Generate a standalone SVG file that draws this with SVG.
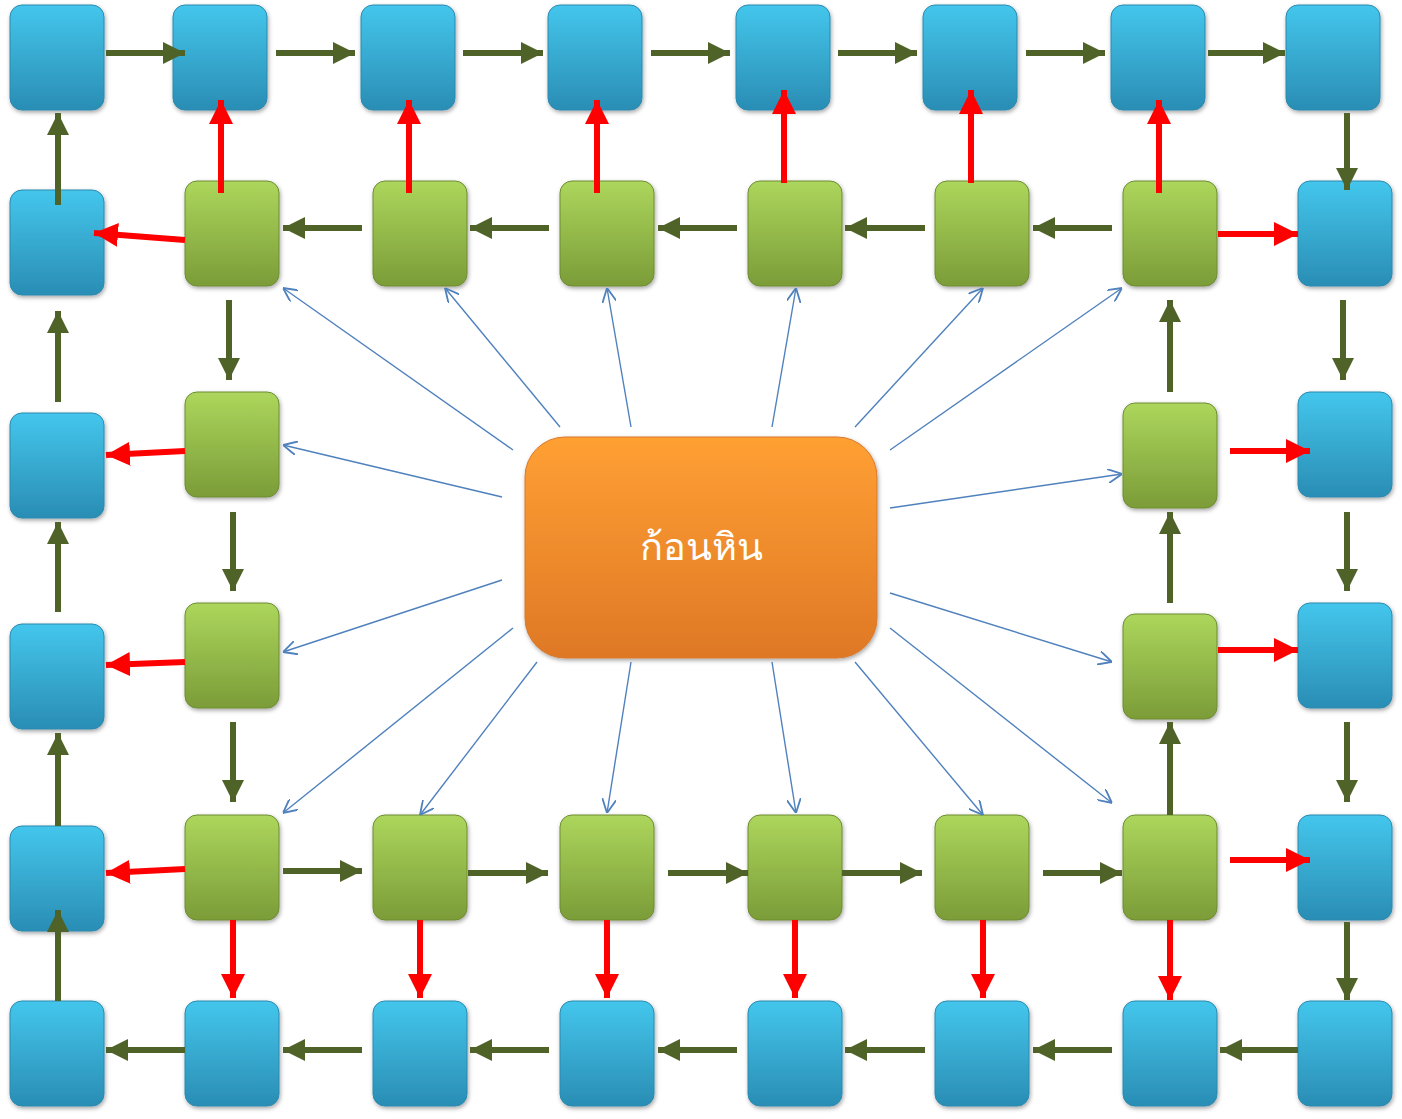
<svg xmlns="http://www.w3.org/2000/svg" width="1402" height="1119" viewBox="0 0 1402 1119">
<defs>
<linearGradient id="gb" x1="0" y1="0" x2="0" y2="1"><stop offset="0" stop-color="#44c6ec"/><stop offset="1" stop-color="#2a8db4"/></linearGradient>
<linearGradient id="gg" x1="0" y1="0" x2="0" y2="1"><stop offset="0" stop-color="#acd65c"/><stop offset="1" stop-color="#7b9c38"/></linearGradient>
<linearGradient id="go" x1="0" y1="0" x2="0" y2="1"><stop offset="0" stop-color="#ffa033"/><stop offset="1" stop-color="#df7826"/></linearGradient>
<filter id="sh" x="-20%" y="-20%" width="140%" height="140%"><feDropShadow dx="1" dy="2" stdDeviation="2" flood-opacity="0.35"/></filter>
<marker id="ad" viewBox="0 0 10 10" markerWidth="22" markerHeight="22" markerUnits="userSpaceOnUse" refX="10" refY="5" orient="auto"><path d="M0,0 L10,5 L0,10 z" fill="#4f6228"/></marker>
<marker id="ar" viewBox="0 0 10 10" markerWidth="24" markerHeight="24" markerUnits="userSpaceOnUse" refX="10" refY="5" orient="auto"><path d="M0,0 L10,5 L0,10 z" fill="#ff0000"/></marker>
<marker id="ab" viewBox="0 0 10 10" markerWidth="14" markerHeight="14" markerUnits="userSpaceOnUse" refX="10" refY="5" orient="auto"><path d="M0,0 L10,5 L0,10" fill="none" stroke="#4f81bd" stroke-width="1.3"/></marker>
<style>
.b{fill:url(#gb);stroke:#2b8ab0;stroke-width:1;filter:url(#sh)}
.g{fill:url(#gg);stroke:#6e8c33;stroke-width:1;filter:url(#sh)}
.d{stroke:#4f6228;stroke-width:6;marker-end:url(#ad)}
.r{stroke:#ff0000;stroke-width:6;marker-end:url(#ar)}
.l{stroke:#4f81bd;stroke-width:1.4;marker-end:url(#ab)}
</style>
</defs>
<g id="blue-nodes">
<rect id="t1" class="b" x="10" y="5" width="94" height="105" rx="12"/>
<rect id="t2" class="b" x="173" y="5" width="94" height="105" rx="12"/>
<rect id="t3" class="b" x="361" y="5" width="94" height="105" rx="12"/>
<rect id="t4" class="b" x="548" y="5" width="94" height="105" rx="12"/>
<rect id="t5" class="b" x="736" y="5" width="94" height="105" rx="12"/>
<rect id="t6" class="b" x="923" y="5" width="94" height="105" rx="12"/>
<rect id="t7" class="b" x="1111" y="5" width="94" height="105" rx="12"/>
<rect id="t8" class="b" x="1286" y="5" width="94" height="105" rx="12"/>
<rect id="r1" class="b" x="1298" y="181" width="94" height="105" rx="12"/>
<rect id="r2" class="b" x="1298" y="392" width="94" height="105" rx="12"/>
<rect id="r3" class="b" x="1298" y="603" width="94" height="105" rx="12"/>
<rect id="r4" class="b" x="1298" y="815" width="94" height="105" rx="12"/>
<rect id="b8" class="b" x="1298" y="1001" width="94" height="105" rx="12"/>
<rect id="b7" class="b" x="1123" y="1001" width="94" height="105" rx="12"/>
<rect id="b6" class="b" x="935" y="1001" width="94" height="105" rx="12"/>
<rect id="b5" class="b" x="748" y="1001" width="94" height="105" rx="12"/>
<rect id="b4" class="b" x="560" y="1001" width="94" height="105" rx="12"/>
<rect id="b3" class="b" x="373" y="1001" width="94" height="105" rx="12"/>
<rect id="b2" class="b" x="185" y="1001" width="94" height="105" rx="12"/>
<rect id="b1" class="b" x="10" y="1001" width="94" height="105" rx="12"/>
<rect id="l4" class="b" x="10" y="826" width="94" height="105" rx="12"/>
<rect id="l3" class="b" x="10" y="624" width="94" height="105" rx="12"/>
<rect id="l2" class="b" x="10" y="413" width="94" height="105" rx="12"/>
<rect id="l1" class="b" x="10" y="190" width="94" height="105" rx="12"/>
</g>
<g id="green-nodes">
<rect id="gt1" class="g" x="185" y="181" width="94" height="105" rx="12"/>
<rect id="gt2" class="g" x="373" y="181" width="94" height="105" rx="12"/>
<rect id="gt3" class="g" x="560" y="181" width="94" height="105" rx="12"/>
<rect id="gt4" class="g" x="748" y="181" width="94" height="105" rx="12"/>
<rect id="gt5" class="g" x="935" y="181" width="94" height="105" rx="12"/>
<rect id="gt6" class="g" x="1123" y="181" width="94" height="105" rx="12"/>
<rect id="gl1" class="g" x="185" y="392" width="94" height="105" rx="12"/>
<rect id="gl2" class="g" x="185" y="603" width="94" height="105" rx="12"/>
<rect id="gb1" class="g" x="185" y="815" width="94" height="105" rx="12"/>
<rect id="gb2" class="g" x="373" y="815" width="94" height="105" rx="12"/>
<rect id="gb3" class="g" x="560" y="815" width="94" height="105" rx="12"/>
<rect id="gb4" class="g" x="748" y="815" width="94" height="105" rx="12"/>
<rect id="gb5" class="g" x="935" y="815" width="94" height="105" rx="12"/>
<rect id="gb6" class="g" x="1123" y="815" width="94" height="105" rx="12"/>
<rect id="gr2" class="g" x="1123" y="614" width="94" height="105" rx="12"/>
<rect id="gr1" class="g" x="1123" y="403" width="94" height="105" rx="12"/>
</g>
<g id="center">
<rect x="525" y="437" width="352" height="221" rx="40" fill="url(#go)" stroke="#d9782a" filter="url(#sh)"/>
<text x="701" y="560" text-anchor="middle" font-family="'Noto Sans','DejaVu Sans',sans-serif" font-size="38" fill="#ffffff">ก้อนหิน</text>
</g>
<g id="connectors">
<line class="d" x1="106" y1="53" x2="185" y2="53"/>
<line class="d" x1="276" y1="53" x2="355" y2="53"/>
<line class="d" x1="463" y1="53" x2="543" y2="53"/>
<line class="d" x1="651" y1="53" x2="730" y2="53"/>
<line class="d" x1="838" y1="53" x2="917" y2="53"/>
<line class="d" x1="1026" y1="53" x2="1105" y2="53"/>
<line class="d" x1="1208" y1="53" x2="1285" y2="53"/>
<line class="d" x1="1347" y1="113" x2="1347" y2="190"/>
<line class="d" x1="1343" y1="300" x2="1343" y2="380"/>
<line class="d" x1="1347" y1="512" x2="1347" y2="591"/>
<line class="d" x1="1347" y1="722" x2="1347" y2="802"/>
<line class="d" x1="1347" y1="922" x2="1347" y2="1000"/>
<line class="d" x1="1298" y1="1050" x2="1220" y2="1050"/>
<line class="d" x1="1112" y1="1050" x2="1033" y2="1050"/>
<line class="d" x1="925" y1="1050" x2="845" y2="1050"/>
<line class="d" x1="737" y1="1050" x2="658" y2="1050"/>
<line class="d" x1="549" y1="1050" x2="470" y2="1050"/>
<line class="d" x1="362" y1="1050" x2="283" y2="1050"/>
<line class="d" x1="185" y1="1050" x2="106" y2="1050"/>
<line class="d" x1="58" y1="1001" x2="58" y2="910"/>
<line class="d" x1="58" y1="826" x2="58" y2="733"/>
<line class="d" x1="58" y1="612" x2="58" y2="522"/>
<line class="d" x1="58" y1="402" x2="58" y2="311"/>
<line class="d" x1="58" y1="205" x2="58" y2="113"/>
<line class="d" x1="1112" y1="228" x2="1033" y2="228"/>
<line class="d" x1="925" y1="228" x2="845" y2="228"/>
<line class="d" x1="737" y1="228" x2="658" y2="228"/>
<line class="d" x1="549" y1="228" x2="470" y2="228"/>
<line class="d" x1="362" y1="228" x2="283" y2="228"/>
<line class="d" x1="229" y1="300" x2="229" y2="380"/>
<line class="d" x1="233" y1="512" x2="233" y2="591"/>
<line class="d" x1="233" y1="722" x2="233" y2="802"/>
<line class="d" x1="283" y1="871" x2="362" y2="871"/>
<line class="d" x1="468" y1="873" x2="548" y2="873"/>
<line class="d" x1="668" y1="873" x2="748" y2="873"/>
<line class="d" x1="842" y1="873" x2="922" y2="873"/>
<line class="d" x1="1043" y1="873" x2="1122" y2="873"/>
<line class="d" x1="1170" y1="815" x2="1170" y2="722"/>
<line class="d" x1="1170" y1="603" x2="1170" y2="512"/>
<line class="d" x1="1170" y1="392" x2="1170" y2="300"/>
<line class="r" x1="185" y1="240" x2="94" y2="233"/>
<line class="r" x1="221" y1="193" x2="221" y2="100"/>
<line class="r" x1="409" y1="193" x2="409" y2="100"/>
<line class="r" x1="597" y1="193" x2="597" y2="100"/>
<line class="r" x1="784" y1="183" x2="784" y2="90"/>
<line class="r" x1="971" y1="183" x2="971" y2="90"/>
<line class="r" x1="1159" y1="193" x2="1159" y2="100"/>
<line class="r" x1="1218" y1="234" x2="1298" y2="234"/>
<line class="r" x1="185" y1="451" x2="106" y2="455"/>
<line class="r" x1="185" y1="662" x2="106" y2="665"/>
<line class="r" x1="185" y1="869" x2="106" y2="873"/>
<line class="r" x1="233" y1="920" x2="233" y2="998"/>
<line class="r" x1="420" y1="920" x2="420" y2="998"/>
<line class="r" x1="607" y1="920" x2="607" y2="998"/>
<line class="r" x1="795" y1="920" x2="795" y2="998"/>
<line class="r" x1="983" y1="920" x2="983" y2="998"/>
<line class="r" x1="1170" y1="920" x2="1170" y2="1000"/>
<line class="r" x1="1230" y1="451" x2="1310" y2="451"/>
<line class="r" x1="1218" y1="650" x2="1298" y2="650"/>
<line class="r" x1="1230" y1="860" x2="1310" y2="860"/>
<line class="l" x1="513" y1="450" x2="283" y2="288"/>
<line class="l" x1="560" y1="427" x2="445" y2="288"/>
<line class="l" x1="631" y1="427" x2="607" y2="288"/>
<line class="l" x1="772" y1="427" x2="796" y2="288"/>
<line class="l" x1="855" y1="427" x2="983" y2="288"/>
<line class="l" x1="890" y1="450" x2="1122" y2="288"/>
<line class="l" x1="502" y1="497" x2="283" y2="445"/>
<line class="l" x1="890" y1="508" x2="1122" y2="474"/>
<line class="l" x1="502" y1="580" x2="283" y2="652"/>
<line class="l" x1="890" y1="593" x2="1112" y2="662"/>
<line class="l" x1="513" y1="628" x2="283" y2="813"/>
<line class="l" x1="537" y1="662" x2="420" y2="815"/>
<line class="l" x1="631" y1="662" x2="607" y2="813"/>
<line class="l" x1="772" y1="662" x2="796" y2="813"/>
<line class="l" x1="855" y1="662" x2="983" y2="815"/>
<line class="l" x1="890" y1="628" x2="1112" y2="803"/>
</g>
</svg>
